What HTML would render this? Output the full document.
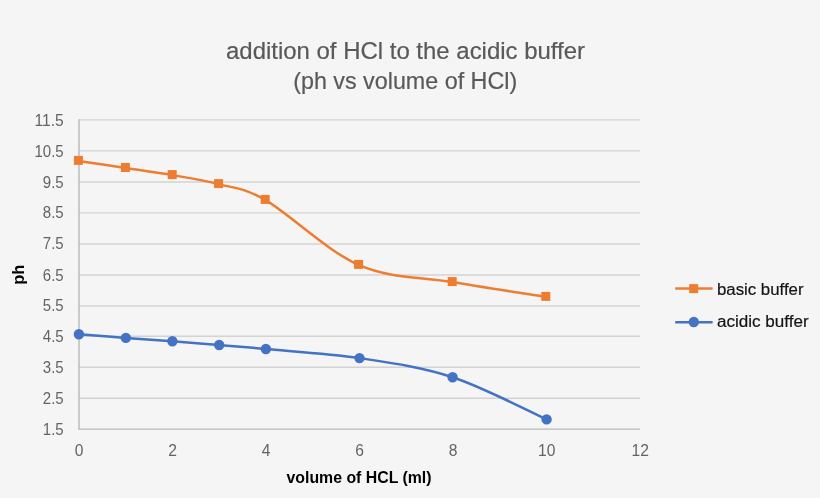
<!DOCTYPE html>
<html><head><meta charset="utf-8"><style>
html,body{margin:0;padding:0;background:#F5F5F5;}
svg{display:block;will-change:transform;}
text{font-family:"Liberation Sans",sans-serif;}
.g{stroke:#D3D3D3;stroke-width:1.4;}
.t{font-size:15.6px;fill:#646464;}
</style></head><body>
<svg width="820" height="498" viewBox="0 0 820 498">
<rect width="820" height="498" fill="#F5F5F5"/>
<text x="405.5" y="58.7" text-anchor="middle" font-size="24.5" fill="#595959" stroke="#595959" stroke-width="0.2" textLength="359" lengthAdjust="spacingAndGlyphs">addition of HCl to the acidic buffer</text>
<text x="405.2" y="89.2" text-anchor="middle" font-size="24.5" fill="#595959" stroke="#595959" stroke-width="0.2" textLength="224" lengthAdjust="spacingAndGlyphs">(ph vs volume of HCl)</text>
<line x1="79.0" y1="119.90" x2="640.0" y2="119.90" class="g"/>
<line x1="79.0" y1="150.85" x2="640.0" y2="150.85" class="g"/>
<line x1="79.0" y1="182.00" x2="640.0" y2="182.00" class="g"/>
<line x1="79.0" y1="212.85" x2="640.0" y2="212.85" class="g"/>
<line x1="79.0" y1="244.07" x2="640.0" y2="244.07" class="g"/>
<line x1="79.0" y1="275.07" x2="640.0" y2="275.07" class="g"/>
<line x1="79.0" y1="306.07" x2="640.0" y2="306.07" class="g"/>
<line x1="79.0" y1="336.20" x2="640.0" y2="336.20" class="g"/>
<line x1="79.0" y1="367.20" x2="640.0" y2="367.20" class="g"/>
<line x1="79.0" y1="398.20" x2="640.0" y2="398.20" class="g"/>

<line x1="79.0" y1="429.1" x2="640.0" y2="429.1" stroke="#B9B9B9" stroke-width="1.4"/>
<line x1="79.0" y1="119.2" x2="79.0" y2="429.8" stroke="#B9B9B9" stroke-width="1.4"/>
<text x="63.7" y="126" class="t" text-anchor="end" textLength="29.2" lengthAdjust="spacingAndGlyphs">11.5</text>
<text x="63.7" y="157" class="t" text-anchor="end" textLength="29.2" lengthAdjust="spacingAndGlyphs">10.5</text>
<text x="63.7" y="188" class="t" text-anchor="end" textLength="20.9" lengthAdjust="spacingAndGlyphs">9.5</text>
<text x="63.7" y="218" class="t" text-anchor="end" textLength="20.9" lengthAdjust="spacingAndGlyphs">8.5</text>
<text x="63.7" y="249" class="t" text-anchor="end" textLength="20.9" lengthAdjust="spacingAndGlyphs">7.5</text>
<text x="63.7" y="280.6" class="t" text-anchor="end" textLength="20.9" lengthAdjust="spacingAndGlyphs">6.5</text>
<text x="63.7" y="311.4" class="t" text-anchor="end" textLength="20.9" lengthAdjust="spacingAndGlyphs">5.5</text>
<text x="63.7" y="342" class="t" text-anchor="end" textLength="20.9" lengthAdjust="spacingAndGlyphs">4.5</text>
<text x="63.7" y="373" class="t" text-anchor="end" textLength="20.9" lengthAdjust="spacingAndGlyphs">3.5</text>
<text x="63.7" y="404" class="t" text-anchor="end" textLength="20.9" lengthAdjust="spacingAndGlyphs">2.5</text>
<text x="63.7" y="435" class="t" text-anchor="end" textLength="20.9" lengthAdjust="spacingAndGlyphs">1.5</text>

<text x="79.20" y="456" class="t" text-anchor="middle">0</text>
<text x="172.70" y="456" class="t" text-anchor="middle">2</text>
<text x="266.20" y="456" class="t" text-anchor="middle">4</text>
<text x="359.70" y="456" class="t" text-anchor="middle">6</text>
<text x="453.20" y="456" class="t" text-anchor="middle">8</text>
<text x="546.70" y="456" class="t" text-anchor="middle">10</text>
<text x="640.20" y="456" class="t" text-anchor="middle">12</text>

<path d="M78.40,160.90 C86.23,162.08 109.77,165.63 125.40,168.00 C141.03,170.37 156.67,172.42 172.20,175.10 C187.73,177.78 203.10,179.97 218.60,184.10 C234.10,188.23 243.89,187.60 265.20,199.90 C288.53,213.37 327.43,251.20 358.60,264.90 C389.77,278.60 421.00,276.77 452.20,282.10 C483.40,287.43 530.20,294.43 545.80,296.90" fill="none" stroke="#ED7D31" stroke-width="2.5" stroke-linecap="round" stroke-linejoin="round"/>
<rect x="73.90" y="155.90" width="9.0" height="9.0" fill="#ED7D31"/><rect x="120.90" y="163.00" width="9.0" height="9.0" fill="#ED7D31"/><rect x="167.70" y="170.10" width="9.0" height="9.0" fill="#ED7D31"/><rect x="214.10" y="179.10" width="9.0" height="9.0" fill="#ED7D31"/><rect x="260.70" y="194.90" width="9.0" height="9.0" fill="#ED7D31"/><rect x="354.10" y="259.90" width="9.0" height="9.0" fill="#ED7D31"/><rect x="447.70" y="277.10" width="9.0" height="9.0" fill="#ED7D31"/><rect x="541.30" y="291.90" width="9.0" height="9.0" fill="#ED7D31"/>
<path d="M78.90,334.20 C86.73,334.82 110.32,336.73 125.90,337.90 C141.48,339.07 156.85,340.02 172.40,341.20 C187.95,342.38 203.62,343.70 219.20,345.00 C234.78,346.30 242.57,346.82 265.90,349.00 C289.28,351.18 328.38,353.40 359.50,358.10 C390.62,362.80 421.42,366.98 452.60,377.20 C483.78,387.42 530.93,412.37 546.60,419.40" fill="none" stroke="#4472C4" stroke-width="2.5" stroke-linecap="round" stroke-linejoin="round"/>
<circle cx="78.90" cy="334.20" r="5.2" fill="#4472C4"/><circle cx="125.90" cy="337.90" r="5.2" fill="#4472C4"/><circle cx="172.40" cy="341.20" r="5.2" fill="#4472C4"/><circle cx="219.20" cy="345.00" r="5.2" fill="#4472C4"/><circle cx="265.90" cy="349.00" r="5.2" fill="#4472C4"/><circle cx="359.50" cy="358.10" r="5.2" fill="#4472C4"/><circle cx="452.60" cy="377.20" r="5.2" fill="#4472C4"/><circle cx="546.60" cy="419.40" r="5.2" fill="#4472C4"/>
<text x="359" y="483" text-anchor="middle" font-size="16.5" font-weight="bold" fill="#000" textLength="145" lengthAdjust="spacingAndGlyphs">volume of HCL (ml)</text>
<text transform="translate(24.2,274.7) rotate(-90)" text-anchor="middle" font-size="16.5" font-weight="bold" fill="#000">ph</text>
<line x1="675.2" y1="288.6" x2="712.6" y2="288.6" stroke="#ED7D31" stroke-width="2.5"/>
<rect x="689.2" y="284.1" width="9" height="9" fill="#ED7D31"/>
<line x1="675.2" y1="322.2" x2="712.6" y2="322.2" stroke="#4472C4" stroke-width="2.5"/>
<circle cx="693.8" cy="322" r="5.2" fill="#4472C4"/>
<text x="717" y="294.5" font-size="17.3" fill="#141414" stroke="#141414" stroke-width="0.2" textLength="86.5" lengthAdjust="spacingAndGlyphs">basic buffer</text>
<text x="717" y="327.2" font-size="17.3" fill="#141414" stroke="#141414" stroke-width="0.2" textLength="91.6" lengthAdjust="spacingAndGlyphs">acidic buffer</text>
</svg>
</body></html>
